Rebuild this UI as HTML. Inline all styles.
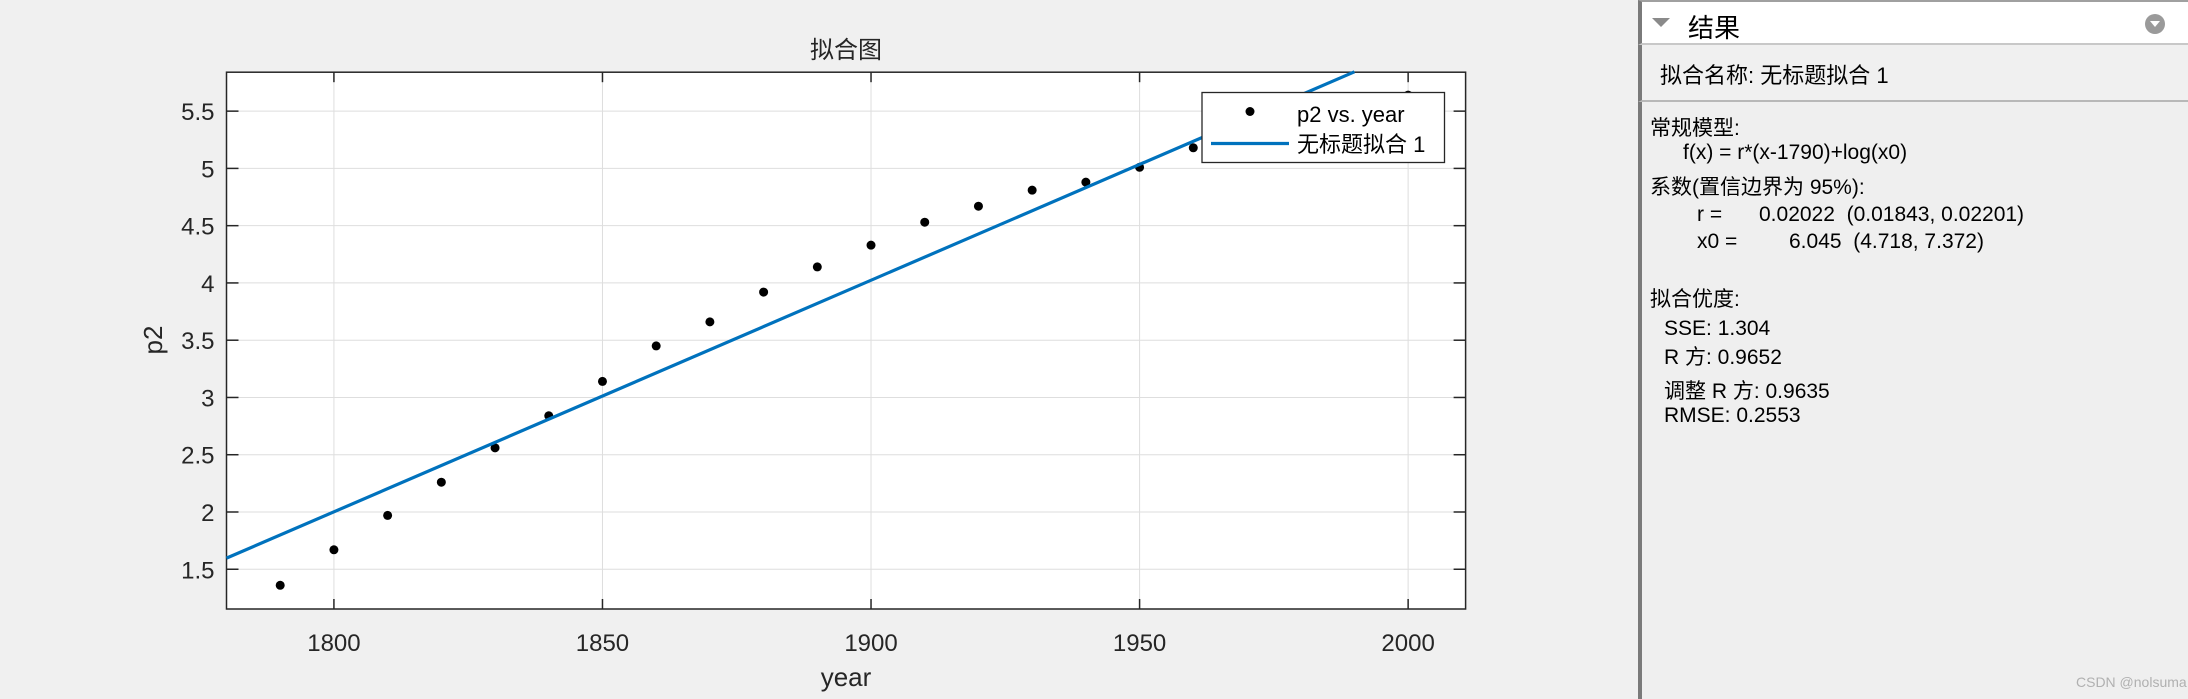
<!DOCTYPE html>
<html><head><meta charset="utf-8"><style>
body{margin:0;width:2188px;height:699px;background:#f0f0f0;overflow:hidden;position:relative;font-family:"Liberation Sans","Noto Sans CJK SC",sans-serif;}
#chart{position:absolute;left:0;top:0;}
.panel{position:absolute;left:1638px;top:0;width:550px;height:699px;}
.t{position:absolute;white-space:pre;color:#000;font-size:21px;}
</style></head><body>
<svg id="chart" width="1620" height="699" xmlns="http://www.w3.org/2000/svg"></svg>
<div class="panel">
 <div style="position:absolute;left:0;top:0;width:550px;height:45px;background:#fff;border-top:2px solid #a0a0a0;border-bottom:2px solid #c8c8c8;border-left:4px solid #7a7a7a;box-sizing:border-box;">
  <div style="position:absolute;left:10px;top:16px;width:0;height:0;border-left:9px solid transparent;border-right:9px solid transparent;border-top:9px solid #8a8a8a;"></div>
  <div class="t" style="left:46px;top:6px;font-size:26px;">结果</div>
  <div style="position:absolute;left:503px;top:12px;width:20px;height:20px;border-radius:50%;background:#9a9a9a;"><div style="position:absolute;left:5px;top:7px;border-left:5px solid transparent;border-right:5px solid transparent;border-top:6px solid #fff;"></div></div>
 </div>
 <div style="position:absolute;left:0;top:45px;width:550px;height:57px;background:#f0f0f0;border-left:4px solid #7a7a7a;border-bottom:2px solid #b8b8b8;box-sizing:border-box;">
  <div class="t" style="left:18px;top:13px;font-size:22px;">拟合名称: 无标题拟合 1</div>
 </div>
 <div style="position:absolute;left:0;top:102px;width:550px;height:597px;background:#efefef;border-left:4px solid #7a7a7a;box-sizing:border-box;"></div>
 <div class="t" style="left:12px;top:112px;">常规模型:</div>
 <div class="t" style="left:45px;top:141px;">f(x) = r*(x-1790)+log(x0)</div>
 <div class="t" style="left:12px;top:171px;">系数(置信边界为 95%):</div>
 <div class="t" style="left:59px;top:203px;">r =</div>
 <div class="t" style="left:121px;top:203px;">0.02022  (0.01843, 0.02201)</div>
 <div class="t" style="left:59px;top:230px;">x0 =</div>
 <div class="t" style="left:151px;top:230px;">6.045  (4.718, 7.372)</div>
 <div class="t" style="left:12px;top:283px;">拟合优度:</div>
 <div class="t" style="left:26px;top:317px;">SSE: 1.304</div>
 <div class="t" style="left:26px;top:341px;">R 方: 0.9652</div>
 <div class="t" style="left:26px;top:375px;">调整 R 方: 0.9635</div>
 <div class="t" style="left:26px;top:404px;">RMSE: 0.2553</div>
 <div class="t" style="left:438px;top:674px;font-size:14px;color:#b0b0b0;">CSDN @nolsuma</div>
</div>
<script>
const years=[1790,1800,1810,1820,1830,1840,1850,1860,1870,1880,1890,1900,1910,1920,1930,1940,1950,1960,1970,1980,1990,2000];
const p2=[1.36,1.67,1.97,2.26,2.56,2.84,3.14,3.45,3.66,3.92,4.14,4.33,4.53,4.67,4.81,4.88,5.01,5.18,5.31,5.42,5.52,5.64];
const xTicks=[1800,1850,1900,1950,2000];
const yTicks=[1.5,2,2.5,3,3.5,4,4.5,5,5.5];
const fitR=0.02022, fitX0=6.045, fitStart=1780, fitEnd=1990;
const X0=226.5,X1=1465.6,Y0=609,Y1=72.2,xMin=1780,xMax=2010.7,yMin=1.153,yMax=5.84;
const sx=v=>X0+(v-xMin)/(xMax-xMin)*(X1-X0);
const sy=v=>Y0-(v-yMin)/(yMax-yMin)*(Y0-Y1);
const NS='http://www.w3.org/2000/svg';
const svg=document.getElementById('chart');
function mk(tag,attrs,parent){const e=document.createElementNS(NS,tag);for(const k in attrs)e.setAttribute(k,attrs[k]);(parent||svg).appendChild(e);return e;}
let e=mk('rect',{x:X0,y:Y1,width:X1-X0,height:Y0-Y1,fill:'#fff'});


xTicks.forEach(t=>{
 const x=sx(t);
 let g=mk('line',{x1:x,x2:x,y1:Y1,y2:Y0,stroke:'#dedede','stroke-width':1});
 
 
 mk('line',{x1:x,x2:x,y1:Y0,y2:Y0-10,stroke:'#262626','stroke-width':1.5});
 mk('line',{x1:x,x2:x,y1:Y1,y2:Y1+10,stroke:'#262626','stroke-width':1.5});
 let l=mk('text',{x:x,y:Y0+42,'text-anchor':'middle','font-size':24,fill:'#262626','font-family':'Liberation Sans, sans-serif'});
 l.textContent=t;
 
 
});
yTicks.forEach(t=>{
 const y=sy(t);
 let g=mk('line',{x1:X0,x2:X1,y1:y,y2:y,stroke:'#dedede','stroke-width':1});
 
 
 mk('line',{x1:X0,x2:X0+12,y1:y,y2:y,stroke:'#262626','stroke-width':1.5});
 mk('line',{x1:X1,x2:X1-12,y1:y,y2:y,stroke:'#262626','stroke-width':1.5});
 let l=mk('text',{x:X0-12,y:y+9,'text-anchor':'end','font-size':24,fill:'#262626','font-family':'Liberation Sans, sans-serif'});
 l.textContent=t;
 
 
});
e=mk('rect',{x:X0,y:Y1,width:X1-X0,height:Y0-Y1,fill:'none',stroke:'#262626','stroke-width':1.5});


years.forEach((yr,i)=>{
 let c=mk('circle',{cx:sx(yr),cy:sy(p2[i]),r:4.5,fill:'#000'});
 
 
});
const f=x=>fitR*(x-1790)+Math.log(fitX0);
e=mk('line',{x1:sx(fitStart),y1:sy(f(fitStart)),x2:sx(fitEnd),y2:sy(f(fitEnd)),stroke:'#0072BD','stroke-width':3.2});


// legend
const lg=mk('g',{});


mk('rect',{x:1202,y:92.5,width:242.5,height:70,fill:'#fff',stroke:'#262626','stroke-width':1.3},lg);
let m=mk('circle',{cx:1250,cy:111.5,r:4.5,fill:'#000'},lg);


let t1=mk('text',{x:1297,y:122,'font-size':22,fill:'#000','font-family':'Liberation Sans, sans-serif'},lg);
t1.textContent='p2 vs. year';


let ll=mk('line',{x1:1211,x2:1289,y1:143.5,y2:143.5,stroke:'#0072BD','stroke-width':3.2},lg);


let t2=mk('text',{x:1297,y:152,'font-size':22,fill:'#000','font-family':'Liberation Sans, Noto Sans CJK SC, sans-serif'},lg);
t2.textContent='无标题拟合 1';


let tt=mk('text',{x:846,y:58,'text-anchor':'middle','font-size':24,fill:'#262626','font-family':'Liberation Sans, Noto Sans CJK SC, sans-serif'});
tt.textContent='拟合图';


let xt=mk('text',{x:846,y:686,'text-anchor':'middle','font-size':26,fill:'#262626','font-family':'Liberation Sans, sans-serif'});
xt.textContent='year';


let yt=mk('text',{x:0,y:0,'text-anchor':'middle','font-size':26,fill:'#262626','font-family':'Liberation Sans, sans-serif',transform:'translate(162,340) rotate(-90)'});
yt.textContent='p2';


</script>
</body></html>
